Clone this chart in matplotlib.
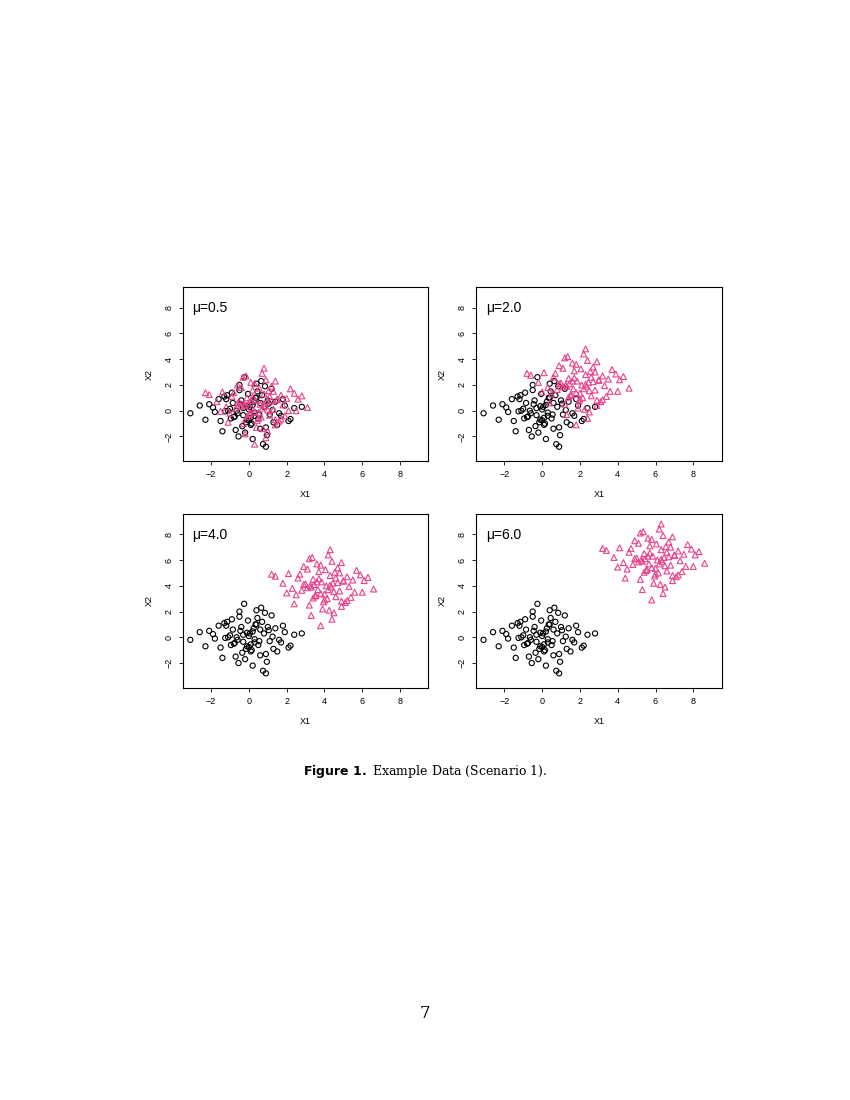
import matplotlib
matplotlib.use("Agg")
import matplotlib.pyplot as plt

# hand-read offsets of the simulated points around each cluster centre
OFF_X = [-0.3, 0.5, -1.2, 0.8, 0.1, -0.6, 1.4, -0.9, 0.3, -2.1, 0.7, -0.2, 1.1, -1.5, 0.0, 0.4, -0.8, 1.9, -0.4, 0.9,
         -1.1, 0.2, -0.5, 1.3, -1.8, 0.6, -0.1, 2.4, -0.7, 0.35,
         -2.6, 1.6, -0.25, 0.05, -1.3, 0.95, -0.45, 1.2, -0.95, 0.15,
         0.55, -1.6, 2.1, -0.05, 0.75, -1.0, 0.25, 1.7, -0.35, -2.3,
         0.45, 1.0, -0.65, 0.1, -1.4, 2.8, -0.15, 0.65, -0.85, 1.5,
         0.3, -1.9, 0.85, -0.55, 0.2, 1.25, -1.15, -0.3, 0.6, -3.1,
         1.8, -0.75, 0.0, 0.4, -1.25, 2.2, -0.1, 0.9, -0.5, 1.05]
OFF_Y = [0.2, -0.6, 0.9, 0.3, -1.1, -0.2, 0.7, 1.4, -0.4, 0.5, 1.2, -1.7, -0.3, -0.8, 0.1, 2.1, -0.5, 0.4, 0.8, -1.3,
         0.0, -2.2, 1.6, -0.9, -0.1, 0.6, -0.7, 0.2, -1.5, 1.0,
         0.4, -0.2, 2.6, 0.3, 1.1, -1.9, 0.5, 1.7, -0.6, -1.0,
         -0.3, 0.9, -0.8, 1.3, -2.6, 0.15, 0.7, -0.4, -1.2, -0.7,
         1.5, 0.8, 0.0, -0.55, -1.6, 0.3, -0.9, 2.3, 0.6, -1.1,
         -0.15, 0.25, 1.9, -2.0, 0.45, 0.05, 1.2, -0.35, -1.4, -0.2,
         0.9, -0.45, -0.75, 1.0, -0.05, -0.65, 0.35, -2.8, 2.0, 0.55]
MUS = [0.5, 2.0, 4.0, 6.0]
TITLES = ["μ=0.5", "μ=2.0", "μ=4.0", "μ=6.0"]
TICKS_X = [-2, 0, 2, 4, 6, 8]
TICKS_Y = [-2, 0, 2, 4, 6, 8]

PINK = "#e8428c"

fig = plt.figure(figsize=(8.5, 11), dpi=100)
plt.rcParams['font.family'] = ['Liberation Sans', 'DejaVu Sans']

# axes boxes in figure fractions (left, bottom, width, height)
boxes = [(0.215, 0.581, 0.289, 0.158), (0.560, 0.581, 0.289, 0.158),
         (0.215, 0.375, 0.289, 0.158), (0.560, 0.375, 0.289, 0.158)]

n = min(len(OFF_X), len(OFF_Y))
for box, mu, title in zip(boxes, MUS, TITLES):
    ax = fig.add_axes(box)
    # black class centred at 0, pink class shifted by mu (use swapped offsets)
    ax.scatter(OFF_X[:n], OFF_Y[:n], s=14, facecolors='none', edgecolors='black', marker='o', linewidths=0.8)
    ax.scatter([mu + v for v in OFF_Y[:n]], [mu + v for v in OFF_X[:n]], s=18,
               facecolors='none', edgecolors=PINK, marker='^', linewidths=0.8)
    ax.set_xlim(-3.5, 9.5)
    ax.set_ylim(-3.9, 9.6)
    ax.set_xticks(TICKS_X)
    ax.set_yticks(TICKS_Y)
    ax.tick_params(labelsize=6.5, length=3, width=0.6)
    for lbl in ax.get_yticklabels():
        lbl.set_rotation(90)
        lbl.set_va('center')
    ax.set_xlabel("X1", fontsize=6.5, labelpad=8)
    ax.set_ylabel("X2", fontsize=6.5, labelpad=8)
    ax.text(0.04, 0.92, title, transform=ax.transAxes, fontsize=10, va='top')
    for sp in ax.spines.values():
        sp.set_linewidth(0.8)

fig.text(0.5, 0.295, r"$\mathbf{Figure\ 1.}$ Example Data (Scenario 1).", ha='center',
         fontsize=9, family='DejaVu Serif')
fig.text(0.5, 0.075, "7", ha='center', fontsize=12, family='DejaVu Serif')

fig.savefig("out.png", dpi=100)
